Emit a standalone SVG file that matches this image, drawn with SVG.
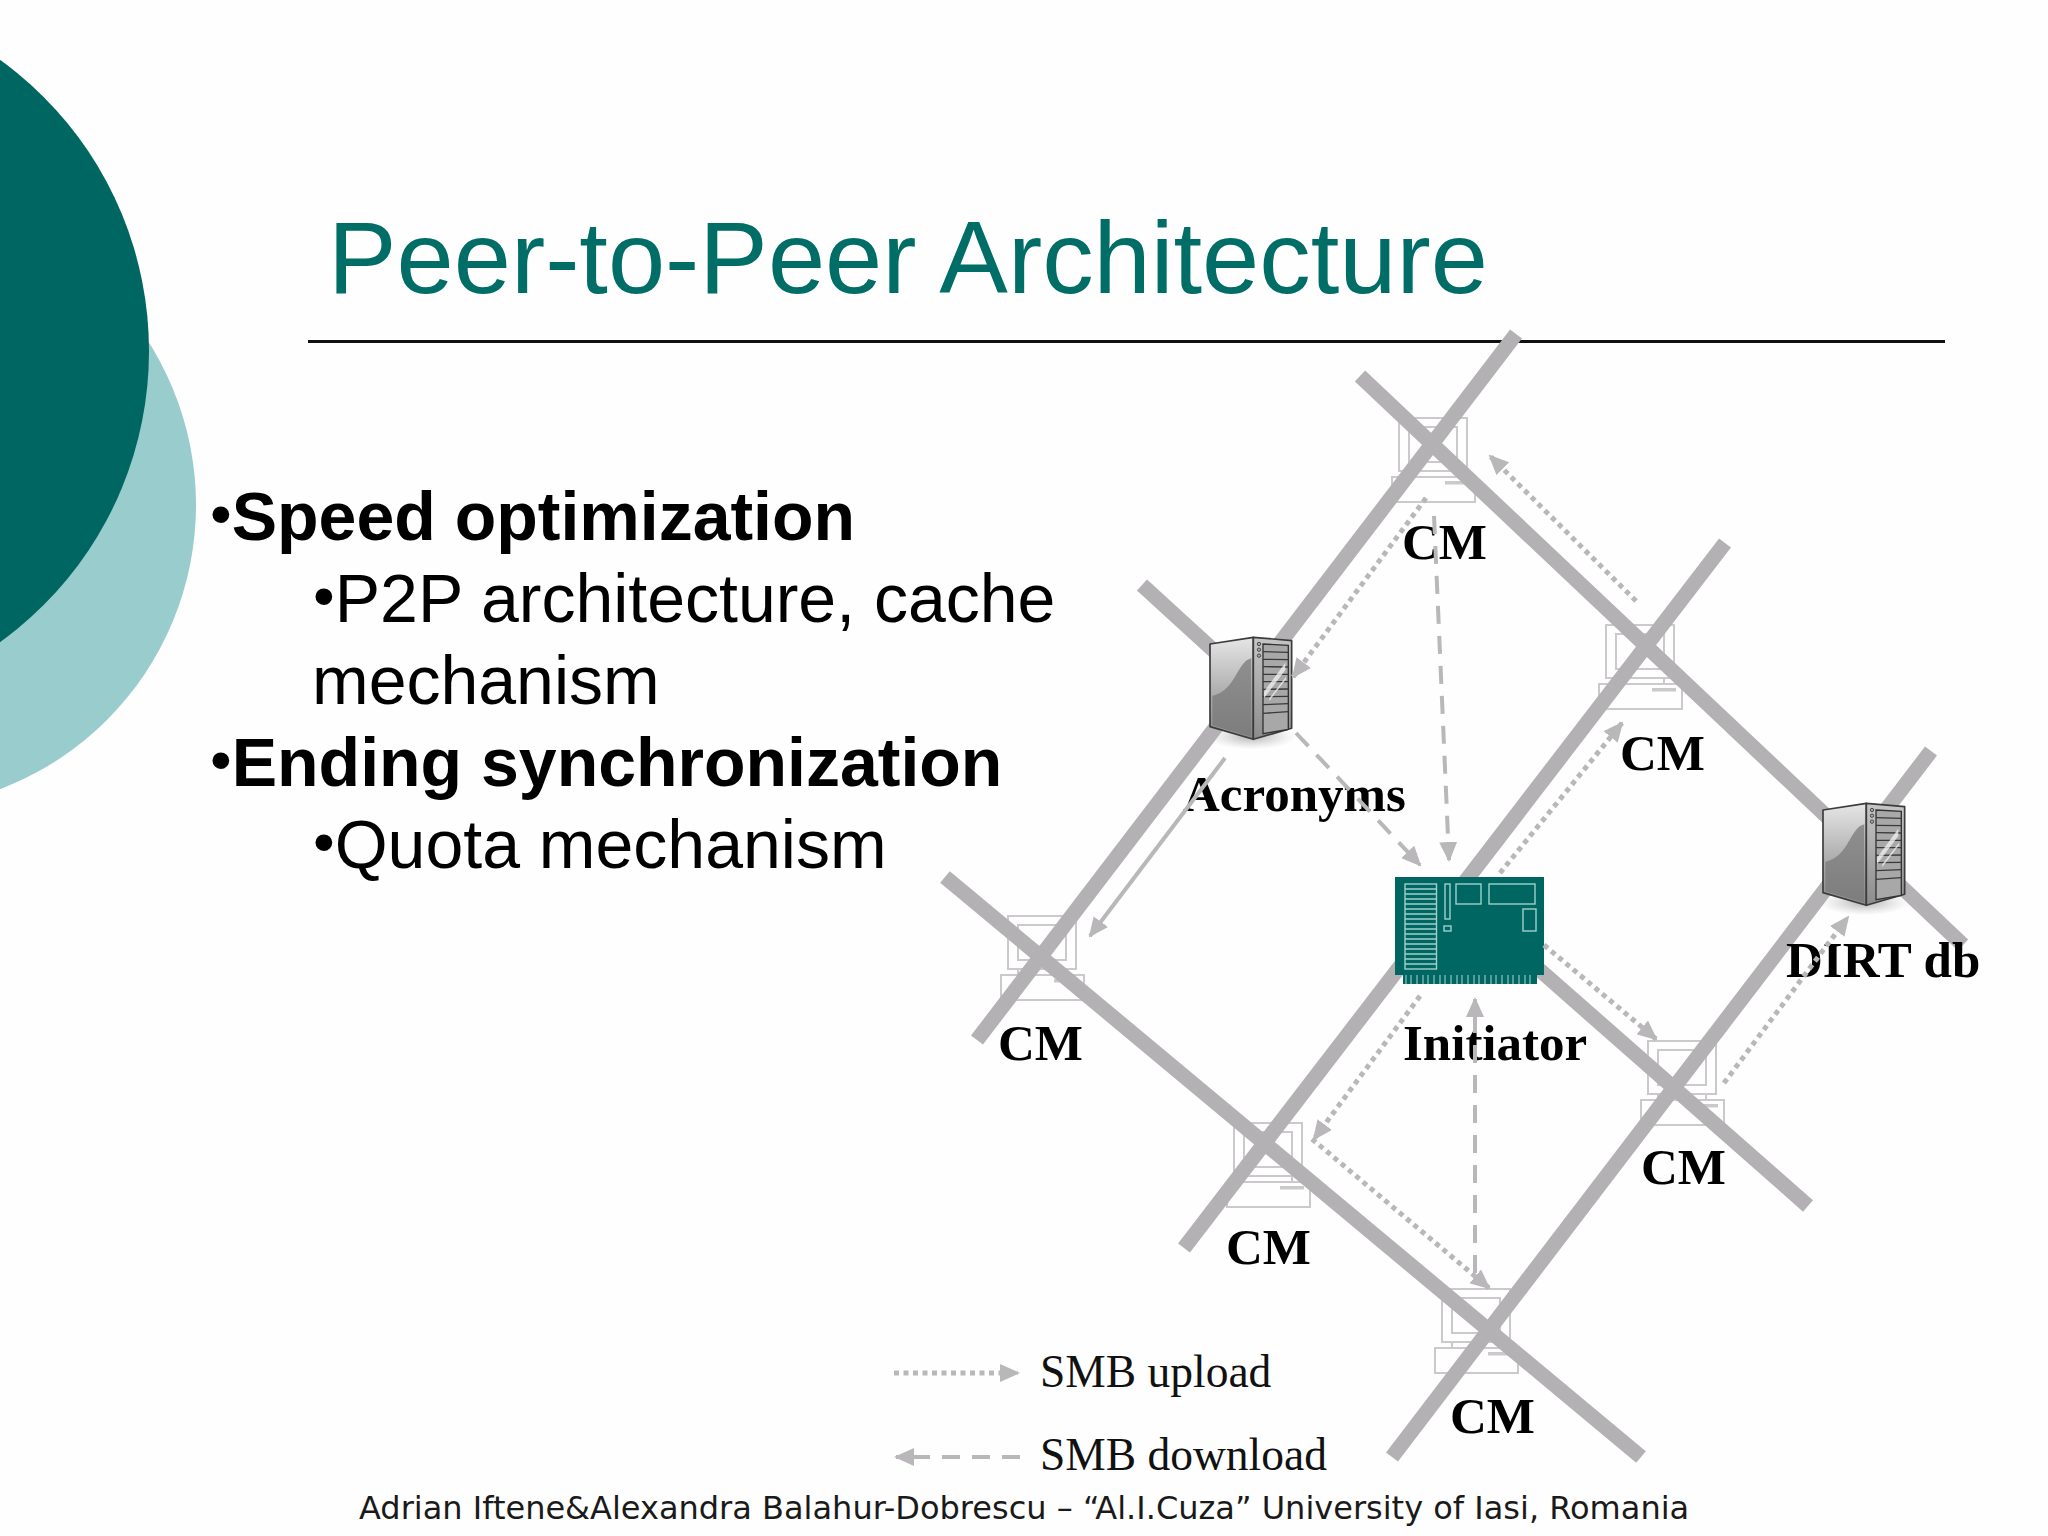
<svg xmlns="http://www.w3.org/2000/svg" width="2048" height="1536" viewBox="0 0 2048 1536">
<style>
.x{stroke:#b3b1b3;stroke-width:15;fill:none}
.up{stroke:#b9b7b9;stroke-width:5;fill:none;stroke-dasharray:5 4.5;marker-end:url(#ah)}
.dn{stroke:#b9b7b9;stroke-width:4;fill:none;stroke-dasharray:18 12;marker-end:url(#ah)}
.so{stroke:#b9b7b9;stroke-width:4;fill:none;marker-end:url(#ah)}
.pc{fill:none;stroke:#cbc9cb;stroke-width:2}
.lb{font-family:"Liberation Serif","Times New Roman",serif;font-weight:bold;font-size:51px;fill:#000}
.lg{font-family:"Liberation Serif","Times New Roman",serif;font-size:45.5px;fill:#111}
.bl{font-family:"Liberation Sans",Arial,sans-serif;font-size:68px;fill:#000}
.b{font-weight:bold}
.dot{font-weight:normal;font-size:62px}
.ch{fill:none;stroke:#9fd0cc;stroke-width:1.4}
</style>
<defs>
<marker id="ah" markerUnits="userSpaceOnUse" markerWidth="20" markerHeight="18" viewBox="0 0 20 18" refX="18" refY="9" orient="auto"><path d="M0,0L20,9L0,18Z" fill="#b9b7b9"/></marker>
<linearGradient id="sl" x1="0" y1="0" x2="0" y2="1"><stop offset="0" stop-color="#e6e6e6"/><stop offset="0.6" stop-color="#a8a8a8"/><stop offset="1" stop-color="#8a8a8a"/></linearGradient>
<linearGradient id="sr" x1="0" y1="0" x2="0" y2="1"><stop offset="0" stop-color="#c6c6c6"/><stop offset="1" stop-color="#8c8c8c"/></linearGradient>
<linearGradient id="sw" x1="0" y1="0" x2="0" y2="1"><stop offset="0" stop-color="#8f8f8f"/><stop offset="1" stop-color="#7d7d7d"/></linearGradient>
<radialGradient id="sh"><stop offset="0" stop-color="#999" stop-opacity=".75"/><stop offset="1" stop-color="#bbb" stop-opacity="0"/></radialGradient>
<g id="server" transform="scale(.3333)">
<ellipse cx="215" cy="350" rx="135" ry="38" fill="url(#sh)"/>
<path d="M90,72L220,52V358L90,320Z" fill="url(#sl)" stroke="#3c3c3c" stroke-width="5" stroke-linejoin="round"/>
<path d="M214,115C170,125 170,210 97,228V316L214,350Z" fill="url(#sw)"/>
<path d="M220,52L335,62V325L220,358Z" fill="url(#sr)" stroke="#3c3c3c" stroke-width="5" stroke-linejoin="round"/>
<circle cx="237" cy="72" r="5" fill="#aaa" stroke="#333" stroke-width="2.5"/><circle cx="237" cy="89" r="5" fill="#aaa" stroke="#333" stroke-width="2.5"/><circle cx="237" cy="107" r="5" fill="#aaa" stroke="#333" stroke-width="2.5"/>
<path d="M249,72L325,76V328L249,341Z" fill="#a8a8a8" stroke="#333" stroke-width="4"/>
<path d="M249,95L325,97M249,118L325,119M249,140L325,141M249,163L325,163M249,185L325,185M249,208L325,207M249,230L325,229M249,254L325,251M249,280L325,275" stroke="#3a3a3a" stroke-width="4" fill="none"/>
<path d="M252,215L316,128V150L252,235ZM268,235L318,170V178L268,243Z" fill="#eee" opacity=".8"/>
</g>
<g id="pc">
<rect class="pc" x="0" y="0" width="68" height="53"/>
<rect class="pc" x="10" y="9" width="48" height="35"/>
<path class="pc" d="M10,53V59M58,53V59"/>
<rect class="pc" x="-7" y="59" width="83" height="25"/>
<rect x="46" y="63" width="24" height="3.5" fill="#cbc9cb"/>
</g>
</defs>
<rect width="2048" height="1536" fill="#fefefe"/>
<g id="backdrop">
<circle cx="-108" cy="505" r="304" fill="#99cccc"/>
<circle cx="-210" cy="351" r="359" fill="#006661"/>
<text x="328" y="293" font-family="'Liberation Sans',Arial,sans-serif" font-size="102.8" fill="#006d66">Peer-to-Peer Architecture</text>
<rect x="308" y="340" width="1637" height="3" fill="#111"/>
</g>
<g id="bullets">
<text class="bl b" x="210" y="540"><tspan class="dot" dy="-5">•</tspan><tspan dy="5">Speed optimization</tspan></text>
<text class="bl" x="313" y="622"><tspan class="dot" dy="-5">•</tspan><tspan dy="5">P2P architecture, cache</tspan></text>
<text class="bl" x="312" y="704">mechanism</text>
<text class="bl b" x="210" y="786"><tspan class="dot" dy="-5">•</tspan><tspan dy="5">Ending synchronization</tspan></text>
<text class="bl" x="313" y="868"><tspan class="dot" dy="-5">•</tspan><tspan dy="5">Quota mechanism</tspan></text>
</g>
<g id="cm-top"><use href="#pc" x="1399" y="418"/></g>
<g id="cm-upper-right"><use href="#pc" x="1606" y="625"/></g>
<g id="cm-left"><use href="#pc" x="1008" y="916"/></g>
<g id="cm-lower"><use href="#pc" x="1234" y="1123"/></g>
<g id="cm-right"><use href="#pc" x="1648" y="1041"/></g>
<g id="cm-bottom"><use href="#pc" x="1442" y="1289"/></g>
<g id="crosses">
<path class="x" d="M1516,334L977,1040"/>
<path class="x" d="M1360,376L1963,945"/>
<path class="x" d="M1725,543L1184,1248"/>
<path class="x" d="M1931,751L1392,1457"/>
<path class="x" d="M945,877L1641,1457"/>
<path class="x" d="M1142,585L1235,670"/>
<path class="x" d="M1500,935L1808,1206"/>
</g>
<g id="acronyms"><use href="#server" x="1180" y="620"/><text class="lb" x="1183" y="811">Acronyms</text></g>
<g id="dirt"><use href="#server" x="1793" y="786"/><text class="lb" x="1786" y="977">DIRT db</text></g>
<g id="initiator">
<rect x="1403" y="975" width="134" height="9" fill="#006661"/>
<path d="M1406,975v9M1411,975v9M1417,975v9M1423,975v9M1428,975v9M1434,975v9M1440,975v9M1445,975v9M1451,975v9M1457,975v9M1462,975v9M1468,975v9M1474,975v9M1479,975v9M1485,975v9M1491,975v9M1496,975v9M1502,975v9M1508,975v9M1513,975v9M1519,975v9M1525,975v9M1530,975v9" stroke="#8fc4c0" stroke-width="1.2"/>
<rect x="1395" y="877" width="149" height="98" fill="#006661"/>
<rect class="ch" x="1405" y="884" width="31.5" height="85"/>
<path class="ch" d="M1405,889h31.5M1405,894h31.5M1405,899h31.5M1405,904h31.5M1405,909h31.5M1405,914h31.5M1405,919h31.5M1405,924h31.5M1405,929h31.5M1405,934h31.5M1405,939h31.5M1405,944h31.5M1405,949h31.5M1405,954h31.5M1405,959h31.5M1405,964h31.5"/>
<rect class="ch" x="1445" y="884" width="5" height="35"/>
<rect class="ch" x="1444" y="926" width="7" height="5"/>
<rect class="ch" x="1456" y="884" width="25" height="20"/>
<rect class="ch" x="1489" y="884" width="46" height="20"/>
<rect class="ch" x="1523" y="909" width="13" height="22"/>
</g>
<g id="labels">
<text class="lb" x="1402" y="559">CM</text>
<text class="lb" x="1620" y="770">CM</text>
<text class="lb" x="998" y="1060">CM</text>
<text class="lb" x="1226" y="1264">CM</text>
<text class="lb" x="1641" y="1184">CM</text>
<text class="lb" x="1450" y="1433">CM</text>
<text class="lb" x="1403" y="1060">Initiator</text>
<text class="lg" x="1040" y="1387">SMB upload</text>
<text class="lg" x="1040" y="1470">SMB download</text>
</g>
<g id="connectors">
<path class="up" d="M1636,601L1490,456"/>
<path class="up" d="M1426,498L1293,677"/>
<path class="dn" d="M1434,516L1449,860"/>
<path class="dn" d="M1296,733L1420,865"/>
<path class="so" d="M1225,758L1090,936"/>
<path class="up" d="M1500,873L1622,723"/>
<path class="up" d="M1544,945L1656,1039"/>
<path class="up" d="M1724,1083L1848,917"/>
<path class="up" d="M1420,996L1314,1139"/>
<path class="up" d="M1312,1139L1489,1288"/>
<path class="dn" d="M1475,1273V999"/>
<path class="up" d="M894,1373H1018"/>
<path class="dn" d="M1020,1457H896"/>
</g>
<text id="footer" x="359" y="1519" font-family="'DejaVu Sans',Verdana,sans-serif" font-size="32" fill="#1a1a1a">Adrian Iftene&amp;Alexandra Balahur-Dobrescu – “Al.I.Cuza” University of Iasi, Romania</text>
</svg>
